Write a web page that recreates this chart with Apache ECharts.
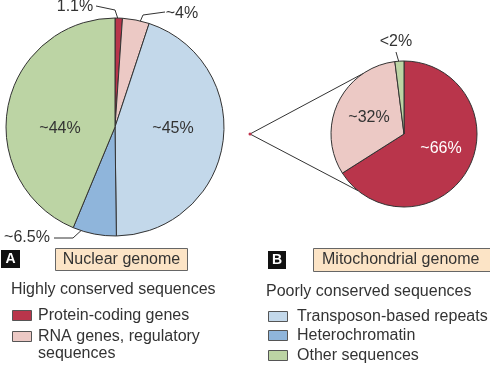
<!DOCTYPE html>
<html><head><meta charset="utf-8">
<script src="https://cdn.jsdelivr.net/npm/echarts@6/dist/echarts.min.js"></script>
<style>html,body{margin:0;padding:0;background:#fff}#c{width:490px;height:366px}</style>
</head><body><div id="c"></div>
<script>
// Data
var nuclearNames = ['Protein-coding genes', 'RNA genes, regulatory sequences', 'Transposon-based repeats', 'Heterochromatin', 'Other sequences'];
var nuclearValues = [1.1, 4, 45, 6.5, 44];
var nuclearLabels = ['1.1%', '~4%', '~45%', '~6.5%', '~44%'];
var mitoNames = ['Protein-coding genes', 'RNA genes, regulatory sequences', 'Other sequences'];
var mitoValues = [66, 32, 2];
var mitoLabels = ['~66%', '~32%', '<2%'];
var highlyNames = ['Protein-coding genes', 'RNA genes, regulatory\nsequences'];
var poorlyNames = ['Transposon-based repeats', 'Heterochromatin', 'Other sequences'];

var colorMap = {
  'Protein-coding genes': '#b9354b',
  'RNA genes, regulatory sequences': '#ecc9c5',
  'Transposon-based repeats': '#c3d8ea',
  'Heterochromatin': '#8fb5db',
  'Other sequences': '#bcd4a4'
};
var FONT = 'Liberation Sans, Arial, sans-serif';
var TXT = '#333';

// label layout (text centers and leader points)
var nucLayout = [
  {x: 75, y: 7, line: [[120, 25], [115, 10], [96, 6]]},
  {x: 182, y: 14, line: [[136, 31], [143, 15], [165, 12]]},
  {x: 173, y: 129},
  {x: 27, y: 238, line: [[98, 215], [73, 238], [54, 238]]},
  {x: 60, y: 129}
];
var mitoLayout = [
  {x: 441, y: 149},
  {x: 369, y: 118},
  {x: 396, y: 42, line: [[401, 68], [398, 59], [396, 52]]}
];

function buildData(names, values, labels, layout, whiteIdx) {
  return names.map(function (n, i) {
    return {
      name: n, value: values[i],
      itemStyle: {color: colorMap[n]},
      label: {formatter: labels[i], color: i === whiteIdx ? '#fff' : TXT},
      labelLine: {show: !!layout[i].line}
    };
  });
}
function makeLayout(layout) {
  return function (p) {
    var l = layout[p.dataIndex];
    var r = {x: l.x, y: l.y, align: 'center', verticalAlign: 'middle'};
    if (l.line) r.labelLinePoints = l.line;
    return r;
  };
}

var chart = echarts.init(document.getElementById('c'), null, {renderer: 'canvas'});

// exploded lines geometry
var C2 = [404, 134], R2 = 73, hinge = [250, 134];
function onCircle(deg) {
  var a = deg * Math.PI / 180;
  return [C2[0] + R2 * Math.cos(a), C2[1] + R2 * Math.sin(a)];
}
var up = onCircle(236), lo = onCircle(129);

var graphics = [
  {type: 'line', shape: {x1: hinge[0], y1: hinge[1], x2: up[0], y2: up[1]}, style: {stroke: '#333', lineWidth: 1}, z: 1},
  {type: 'line', shape: {x1: hinge[0], y1: hinge[1], x2: lo[0], y2: lo[1]}, style: {stroke: '#333', lineWidth: 1}, z: 1},
  {type: 'circle', shape: {cx: hinge[0], cy: hinge[1], r: 1.5}, style: {fill: '#c0304a'}, z: 2},
  // panel A
  {type: 'rect', shape: {x: 1, y: 250, width: 19, height: 18}, style: {fill: '#111'}},
  {type: 'text', style: {text: 'A', x: 10.5, y: 259.5, fill: '#fff', font: 'bold 14px ' + FONT, align: 'center', verticalAlign: 'middle'}},
  {type: 'rect', shape: {x: 55.5, y: 248.5, width: 132, height: 22}, style: {fill: '#fce4c6', stroke: '#666', lineWidth: 1}},
  {type: 'text', style: {text: 'Nuclear genome', x: 121.5, y: 260, fill: TXT, font: '16px ' + FONT, align: 'center', verticalAlign: 'middle'}},
  {type: 'text', style: {text: 'Highly conserved sequences', x: 11, y: 290, fill: TXT, font: '16px ' + FONT, verticalAlign: 'middle'}},
  // panel B
  {type: 'rect', shape: {x: 268, y: 251, width: 18, height: 18}, style: {fill: '#111'}},
  {type: 'text', style: {text: 'B', x: 277, y: 260, fill: '#fff', font: 'bold 14px ' + FONT, align: 'center', verticalAlign: 'middle'}},
  {type: 'rect', shape: {x: 313.5, y: 248.5, width: 180, height: 23}, style: {fill: '#fce4c6', stroke: '#666', lineWidth: 1}},
  {type: 'text', style: {text: 'Mitochondrial genome', x: 322, y: 260, fill: TXT, font: '16px ' + FONT, verticalAlign: 'middle'}},
  {type: 'text', style: {text: 'Poorly conserved sequences', x: 266, y: 292, fill: TXT, font: '16px ' + FONT, verticalAlign: 'middle'}}
];
// legends
var aRows = [316, 337];
highlyNames.forEach(function (n, i) {
  var key = n.replace('\n', ' ');
  graphics.push({type: 'rect', shape: {x: 12.5, y: aRows[i] - 5.5, width: 19, height: 10}, style: {fill: colorMap[key], stroke: '#555', lineWidth: 1}});
  graphics.push({type: 'text', style: {text: n, x: 38, y: aRows[i] - 9, fill: TXT, font: '16px ' + FONT, lineHeight: 17, verticalAlign: 'top'}});
});
var bRows = [317, 336, 356];
poorlyNames.forEach(function (n, i) {
  graphics.push({type: 'rect', shape: {x: 268.5, y: bRows[i] - 5.5, width: 19, height: 10}, style: {fill: colorMap[n], stroke: '#555', lineWidth: 1}});
  graphics.push({type: 'text', style: {text: n, x: 297, y: bRows[i], fill: TXT, font: '16px ' + FONT, verticalAlign: 'middle'}});
});

chart.setOption({
  animation: false,
  backgroundColor: '#fff',
  graphic: graphics,
  series: [
    {
      type: 'pie', name: 'Nuclear genome', center: [115, 127], radius: 109,
      startAngle: 90, clockwise: true, avoidLabelOverlap: false,
      itemStyle: {borderColor: '#333', borderWidth: 1},
      label: {show: true, position: 'outside', fontSize: 16, fontFamily: FONT, color: TXT},
      labelLine: {lineStyle: {color: '#333', width: 1}, length: 10, length2: 10},
      labelLayout: makeLayout(nucLayout),
      emphasis: {disabled: true},
      data: buildData(nuclearNames, nuclearValues, nuclearLabels, nucLayout, -1),
      z: 3
    },
    {
      type: 'pie', name: 'Mitochondrial genome', center: [404, 134], radius: 73,
      startAngle: 90, clockwise: true, avoidLabelOverlap: false,
      itemStyle: {borderColor: '#333', borderWidth: 1},
      label: {show: true, position: 'outside', fontSize: 16, fontFamily: FONT, color: TXT},
      labelLine: {lineStyle: {color: '#333', width: 1}, length: 10, length2: 10},
      labelLayout: makeLayout(mitoLayout),
      emphasis: {disabled: true},
      data: buildData(mitoNames, mitoValues, mitoLabels, mitoLayout, 0),
      z: 3
    }
  ]
});
</script></body></html>
